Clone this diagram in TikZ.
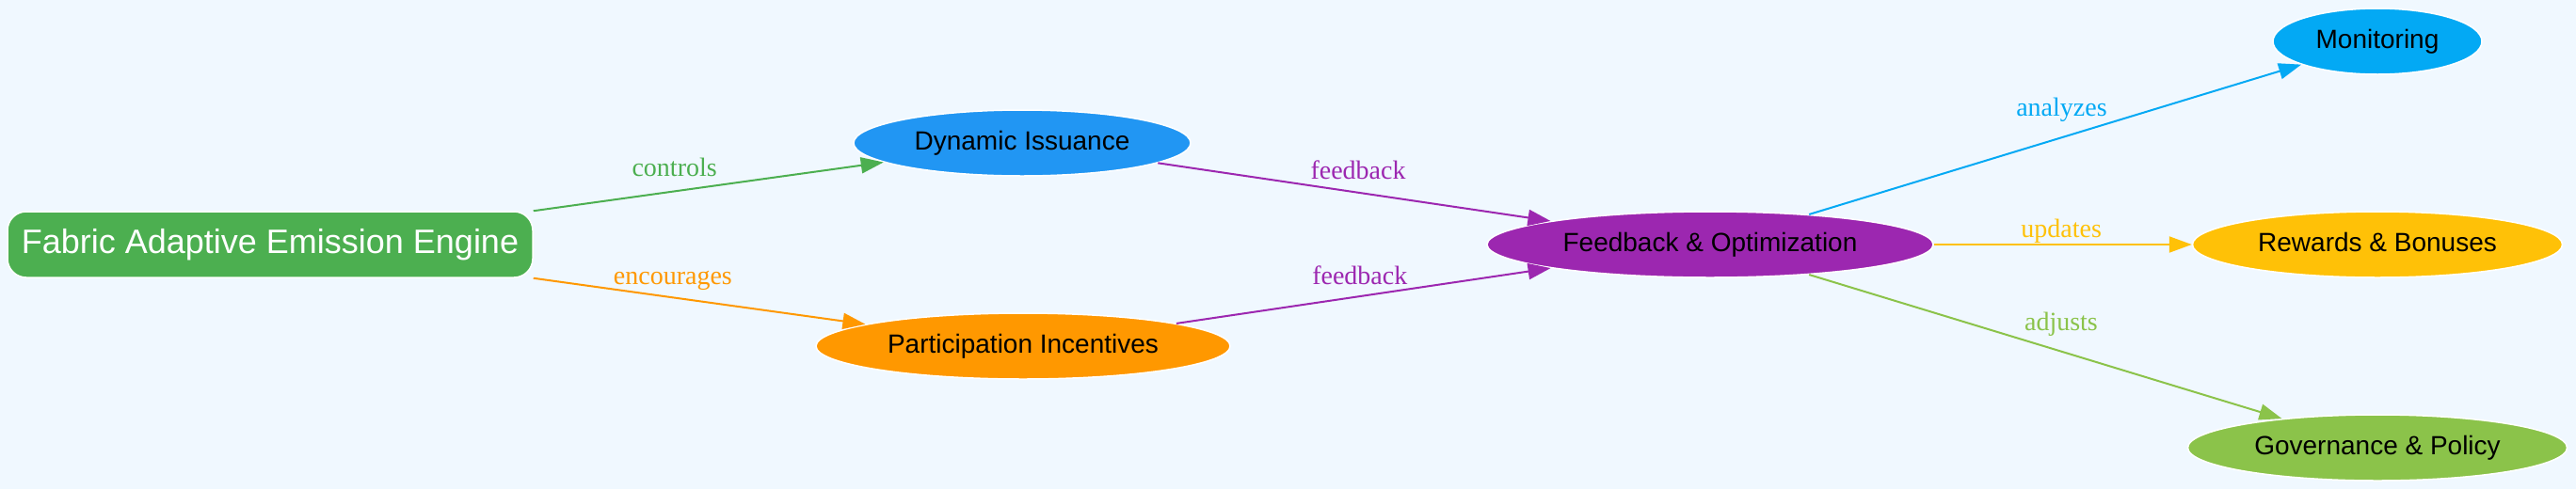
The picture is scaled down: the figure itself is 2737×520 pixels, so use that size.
\documentclass[tikz,border=0pt]{standalone}
\usepackage{fontspec}
\setmainfont{Liberation Serif}
\setsansfont{Liberation Sans}
\usetikzlibrary{shapes.geometric,arrows.meta}

\definecolor{bgcol}{HTML}{F0F8FF}
\definecolor{cgreen}{HTML}{4CAF50}
\definecolor{cblue}{HTML}{2196F3}
\definecolor{corange}{HTML}{FF9800}
\definecolor{cpurple}{HTML}{9C27B0}
\definecolor{csky}{HTML}{03A9F4}
\definecolor{camber}{HTML}{FFC107}
\definecolor{clime}{HTML}{8BC34A}

\tikzset{
  engbox/.style={draw=white, line width=1.5pt, fill=cgreen, rounded corners=20pt,
    minimum width=558pt, minimum height=70pt, text=white,
    font=\sffamily\fontsize{36}{40}\selectfont, text height=26pt, text depth=7pt},
  stage/.style={ellipse, draw=white, line width=1.5pt, minimum height=70pt,
    inner sep=2pt, font=\sffamily\fontsize{28}{32}\selectfont,
    text height=20pt, text depth=6pt},
  link/.style={line width=2pt, -{Triangle[length=24pt,width=17pt]}},
  lbl/.style={anchor=base, inner sep=0pt, font=\rmfamily\fontsize{28}{32}\selectfont}
}

\begin{document}
\begin{tikzpicture}[x=1pt,y=-1pt]

    % 背景
    \path[use as bounding box, fill=bgcol] (0,0) rectangle (2737,520);
    % 引擎
    \node[engbox] (engine) at (287,260) {Fabric Adaptive Emission Engine};
    % 中间两层
    \node[stage, fill=cblue, minimum width=358pt] (issue) at (1086,152) {Dynamic Issuance};
    \node[stage, fill=corange, minimum width=440pt] (incent) at (1087,368) {Participation Incentives};
    \node[stage, fill=cpurple, minimum width=474pt] (optim) at (1817,260) {Feedback \& Optimization};
    % 右侧输出
    \node[stage, fill=csky, minimum width=222pt] (monit) at (2526,44) {Monitoring};
    \node[stage, fill=camber, minimum width=393pt] (reward) at (2526,260) {Rewards \& Bonuses};
    \node[stage, fill=clime, minimum width=403pt] (govern) at (2526,476) {Governance \& Policy};

    % 连线
    \draw[link, cgreen] (engine.north east) -- node[lbl, text=cgreen, pos=0.403, yshift=16pt] {controls} (issue);
    \draw[link, corange] (engine.south east) -- node[lbl, text=corange, pos=0.42, yshift=14pt] {encourages} (incent);
    \draw[link, cpurple] (issue) -- node[lbl, text=cpurple, pos=0.51, yshift=14pt] {feedback} (optim);
    \draw[link, cpurple] (incent) -- node[lbl, text=cpurple, pos=0.49, yshift=13pt] {feedback} (optim);
    \draw[link, csky] (optim) -- node[lbl, text=csky, pos=0.513, yshift=23pt] {analyzes} (monit);
    \draw[link, camber] (optim) -- node[lbl, text=camber, pos=0.494, yshift=8pt] {updates} (reward);
    \draw[link, clime] (optim) -- node[lbl, text=clime, pos=0.533, yshift=22pt] {adjusts} (govern);

\end{tikzpicture}
\end{document}
